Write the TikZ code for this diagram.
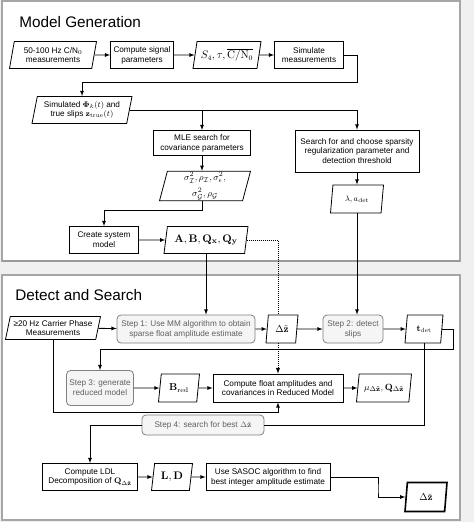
\documentclass[tikz,border=0pt]{standalone}
\usepackage{amsmath,amssymb}
\usepackage[no-math]{fontspec}
\setmainfont{Liberation Sans}
\usetikzlibrary{shapes.geometric}
\begin{document}
\begin{tikzpicture}[x=1pt, y=-1pt, >=latex, line width=0.8pt,
  font=\fontsize{8.2}{9.8}\selectfont,
  proc/.style={draw, rectangle, fill=white, align=center, inner sep=1pt, minimum height=27},
  data/.style={draw, trapezium, trapezium left angle=75, trapezium right angle=105,
    trapezium stretches body, fill=white, align=center, inner sep=1pt, minimum height=27},
  stepbox/.style={draw=gray, fill=gray!8, rounded corners=4, text=gray!75!black,
    align=center, inner sep=1pt, minimum height=27},
  msize/.style={font=\fontsize{#1}{13}\selectfont},
  sect/.style={draw=gray!70, fill=white, line width=1.2pt},
  titel/.style={anchor=west, inner sep=0pt, font=\fontsize{15.3}{18}\selectfont}]
\useasboundingbox (0,0) rectangle (474,522);
\fill[gray!12] (0,0) rectangle (474,522);
%Bereiche
\draw[sect] (2,1) rectangle (460,261);
\draw[sect] (2,275) rectangle (460,520);
\draw[gray!80, line width=2pt] (2,261) -- (460,261);
\node[titel] (tmg) at (19,22) {Model Generation};
\node[titel] (tds) at (15,295) {Detect and Search};

%Model Generation
\node[data, minimum width=87] (cn) at (53,55) {50-100 Hz C/N$_0$\\measurements};
\node[proc, minimum width=63] (sig) at (142,55) {Compute signal\\parameters};
\node[data, msize=10.5, minimum width=68] (spar) at (227,55) {$S_4, \tau, \overline{\mathrm{C/N_0}}$};
\node[proc, minimum width=69] (sim) at (309,55) {Simulate\\measurements};
\node[data, minimum width=100] (phi) at (82,110) {Simulated $\boldsymbol{\Phi}_k(t)$ and\\true slips $\mathbf{z}_{\mathrm{true}}(t)$};
\node[proc, minimum width=97, minimum height=25] (mle) at (202,143) {MLE search for\\covariance parameters};
\node[proc, minimum width=124, minimum height=42] (spars) at (357,151) {Search for and choose sparsity\\regularization parameter and\\detection threshold};
\node[data, msize=9.5, minimum width=91, minimum height=28] (cov) at (205,186) {$\sigma^2_{\mathcal{I}}, \rho_{\mathcal{I}}, \sigma^2_{\epsilon},$\\[3pt]$\sigma^2_{\mathcal{G}}, \rho_{\mathcal{G}}$};
\node[data, msize=8.5, minimum width=53, minimum height=28] (lam) at (357,199) {$\lambda, a_{\mathrm{det}}$};
\node[proc, minimum width=69] (sys) at (104,240) {Create system\\model};
\node[data, msize=11, minimum width=84] (abq) at (206,240) {$\mathbf{A}, \mathbf{B}, \mathbf{Q}_{\mathbf{x}}, \mathbf{Q}_{\mathbf{y}}$};

%Detect and Search
\node[data, minimum width=95, minimum height=23] (cp) at (53,328) {≥20 Hz Carrier Phase\\Measurements};
\node[stepbox, minimum width=138, minimum height=28] (s1) at (186,329) {Step 1: Use MM algorithm to obtain\\sparse float amplitude estimate};
\node[stepbox, minimum width=60, minimum height=28] (s2) at (353,329) {Step 2: detect\\slips};
\node[data, msize=9, minimum width=38, minimum height=28] (tdet) at (424,329) {$\mathbf{t}_{\mathrm{det}}$};
\node[stepbox, minimum width=67, minimum height=35] (s3) at (100,388) {Step 3: generate\\reduced model};
\node[data, msize=10, minimum width=41, minimum height=28] (bred) at (179,388) {$\mathbf{B}_{\mathrm{red}}$};
\node[proc, minimum width=130, minimum height=28] (cf) at (278,388) {Compute float amplitudes and\\covariances in Reduced Model};
\node[data, msize=9.5, minimum width=55, minimum height=28] (muq) at (384,388) {$\mu_{\Delta\tilde{\mathbf{z}}}, \mathbf{Q}_{\Delta\tilde{\mathbf{z}}}$};
\node[stepbox, minimum width=122, minimum height=20] (s4) at (203,425) {Step 4: search for best $\Delta\check{\mathbf{z}}$};
\node[proc, minimum width=95] (ldl) at (90,477) {Compute LDL\\Decomposition of $\mathbf{Q}_{\Delta\tilde{\mathbf{z}}}$};
\node[data, msize=10.5, minimum width=41] (ld) at (172,477) {$\mathbf{L}, \mathbf{D}$};
\node[proc, minimum width=124] (sas) at (268,477) {Use SASOC algorithm to find\\best integer amplitude estimate};
\node[data, msize=10, minimum width=42, minimum height=29, line width=1.6pt] (out) at (426,497) {$\Delta\check{\mathbf{z}}$};

%gepunktete Linie
\draw[densely dotted, line width=1pt, ->] (abq.east) -| (cf.north);
\node[data, msize=10, minimum width=32, minimum height=28] (dz) at (282,329) {$\Delta\tilde{\mathbf{z}}$};

\coordinate (k1) at (357,82);
\coordinate (k2) at (202,210);
\coordinate (k3) at (453,349);
\coordinate (k4) at (278,412);
\coordinate (k5) at (378,490);
%Pfeile
\draw[->] (cn) -- (sig);
\draw[->] (sig) -- (spar);
\draw[->] (spar) -- (sim);
\draw[->] (sim.east) -| (k1) -| (phi.north);
\draw[->] (phi.east) -| (spars.north);
\draw[->] (mle.north |- phi.east) -- (mle.north);
\draw[->] (mle) -- (mle.south |- cov.north);
\draw[->] (cov.south -| k2) -- (k2) -| (sys.north);
\draw[->] (spars) -- (lam);
\draw[->] (sys) -- (abq);
\draw[->] (abq.south) -- (abq.south |- s1.north);
\draw[->] (lam.south) -- (lam.south |- s2.north);
\draw[->] (cp) -- (s1);
\draw[->] (s1) -- (dz);
\draw[->] (dz) -- (s2);
\draw[->] (s2) -- (tdet);
\draw[->] (tdet.east) -| (k3) -| (s3.north);
\draw[->] (s3) -- (bred);
\draw[->] (bred) -- (cf);
\draw[->] (cf) -- (muq);
\draw[->] (cp.south) |- (k4) -- (cf.south);
\draw (tdet.south) |- (s4.east);
\draw[->] (s4.west) -| (ldl.north);
\draw[->] (ldl) -- (ld);
\draw[->] (ld) -- (sas);
\draw[->] (sas.east) -| (k5) |- (out.west);
\end{tikzpicture}
\end{document}
